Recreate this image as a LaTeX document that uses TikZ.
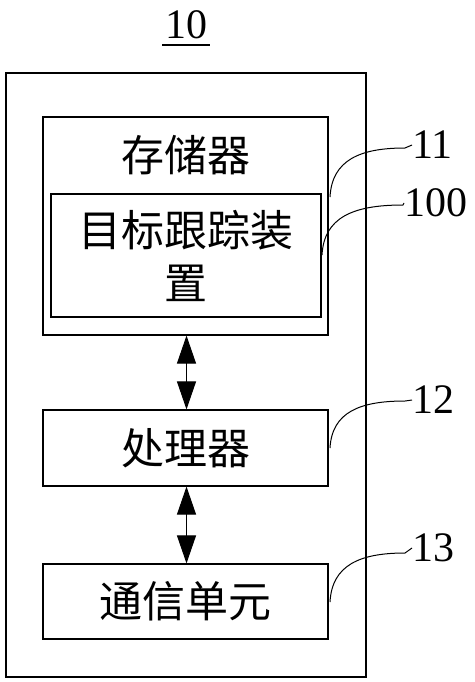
\documentclass[tikz,border=0pt]{standalone}
\usepackage{fontspec}
\setmainfont{Liberation Serif}
\newfontfamily\cjk{Noto Sans CJK SC}
\usetikzlibrary{arrows.meta}
\begin{document}
\begin{tikzpicture}[x=1pt,y=-1pt,
  box/.style={draw, line width=1.1pt, inner sep=0pt, minimum width=285pt},
  cjktext/.style={font=\cjk\fontsize{43}{53}\selectfont, inner sep=0pt},
  numlabel/.style={font=\fontsize{42}{42}\selectfont, inner sep=0pt},
  dblarrow/.style={line width=1pt, {Triangle[length=28pt,width=19pt]}-{Triangle[length=28pt,width=19pt]}},
  leader/.style={line width=1pt}]
\useasboundingbox (0,0) rectangle (474,682);
% title
\node[numlabel] (title) at (186,25) {10};
\draw[line width=1.3pt] (162,45) -- (210,45);
% outer box
\node[draw, line width=1.1pt, inner sep=0pt, minimum width=360pt, minimum height=604pt] (outer) at (186,375) {};
% memory
\node[box, minimum height=218pt] (mem) at (185.5,226) {};
\node[cjktext] (memtext) at (185.5,155) {存储器};
\node[box, minimum width=270pt, minimum height=123pt, align=center, cjktext, draw, line width=1.1pt] (dev) at (186,255.5) {目标跟踪装\\置};
% processor
\node[box, minimum height=76pt, cjktext, draw, line width=1.1pt] (proc) at (185.5,448) {处理器};
% communication
\node[box, minimum height=75pt, cjktext, draw, line width=1.1pt] (comm) at (185.5,601.5) {通信单元};
% arrows
\draw[dblarrow] ([xshift=1pt]mem.south) -- ([xshift=1pt]proc.north);
\draw[dblarrow] ([xshift=1pt]proc.south) -- ([xshift=1pt]comm.north);
% labels
\node[numlabel, anchor=west] (l11) at (412,145) {11};
\node[numlabel, anchor=west] (l100) at (404,203) {100};
\node[numlabel, anchor=west] (l12) at (412,400) {12};
\node[numlabel, anchor=west] (l13) at (412,548) {13};
\coordinate (c11) at (330,197);
\coordinate (c100) at (322,255);
\coordinate (c12) at (330,448);
\coordinate (c13) at (330,602);
\coordinate (e11) at (405,148);
\coordinate (e100) at (403,205);
\coordinate (e12) at (405,401);
\coordinate (e13) at (405,553);
\draw[leader] (c11) .. controls (332,160) and (360,148) .. (e11) -- (l11.west);
\draw[leader] (c100) .. controls (324,218) and (352,205) .. (e100) -- (l100.west);
\draw[leader] (c12) .. controls (332,412) and (360,401) .. (e12) -- (l12.west);
\draw[leader] (c13) .. controls (332,565) and (360,553) .. (e13) -- (l13.west);
\end{tikzpicture}
\end{document}
